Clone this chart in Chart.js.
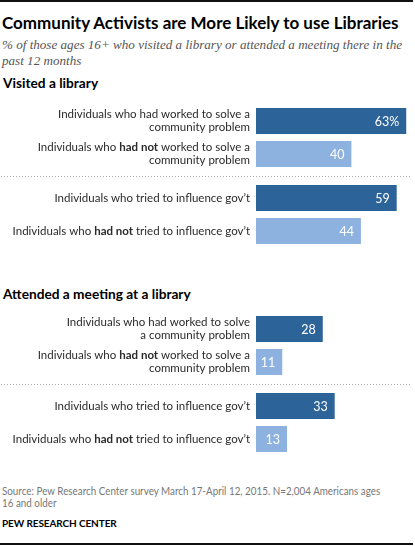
<!DOCTYPE html>
<html>
<head>
<meta charset="utf-8">
<script src="https://cdn.jsdelivr.net/npm/chart.js@4"></script>
<style>
  body { margin: 0; width: 415px; height: 546px; background: #fff; position: relative; overflow: hidden; font-family: Lato, "Liberation Sans", Arial, sans-serif; }
  .abs { position: absolute; white-space: nowrap; }
  #topline { left: 0; top: 0; width: 413px; height: 2px; background: #111; }
  #botline { left: 0; top: 543px; width: 413px; height: 1.5px; background: #111; }
  #titulo { left: 2px; top: 12px; font-size: 17px; font-weight: bold; color: #000; }
  #sub { left: 2px; top: 37px; font-family: "Liberation Serif", serif; font-style: italic; font-size: 13.1px; line-height: 16px; color: #555; }
  .secao { left: 3px; font-size: 13.7px; font-weight: bold; color: #000; }
  #fonte { left: 2px; top: 485px; font-size: 11.3px; line-height: 12px; color: #777; transform: scaleX(0.87); transform-origin: 0 0; }
  #pew { left: 2px; top: 517px; font-size: 10px; font-weight: bold; color: #000; letter-spacing: -0.1px; }
  canvas { position: absolute; left: 0; }
</style>
</head>
<body>
<div class="abs" id="topline"></div>
<div class="abs" id="titulo">Community Activists are More Likely to use Libraries</div>
<div class="abs" id="sub">% of those ages 16+ who visited a library or attended a meeting there in the<br>past 12 months</div>
<div class="abs secao" style="top:74px">Visited a library</div>
<canvas id="g1" width="415" height="154" style="top:99px"></canvas>
<div class="abs secao" style="top:285px">Attended a meeting at a library</div>
<canvas id="g2" width="415" height="154" style="top:307px"></canvas>
<div class="abs" id="fonte">Source: Pew Research Center survey March 17-April 12, 2015. N=2,004 Americans ages<br>16 and older</div>
<div class="abs" id="pew">PEW RESEARCH CENTER</div>
<div class="abs" id="botline"></div>

<script>
// categorias (pares) e rótulos de cada barra; **texto** = negrito
const categorias = ["Resolver problema", "Influenciar governo"];

const rotulosVisitouSim = [
  ["Individuals who had worked to solve a", "community problem"],
  ["Individuals who tried to influence gov\u2019t"]
];
const rotulosVisitouNao = [
  ["Individuals who **had not** worked to solve a", "community problem"],
  ["Individuals who **had not** tried to influence gov\u2019t"]
];
const rotulosReuniaoSim = [
  ["Individuals who had worked to solve", "a community problem"],
  ["Individuals who tried to influence gov\u2019t"]
];
const rotulosReuniaoNao = rotulosVisitouNao;

const visitouSim = [63, 59];
const visitouNao = [40, 44];
const reuniaoSim = [28, 33];
const reuniaoNao = [11, 13];

const corEscura = "#2c6399";
const corClara = "#8eb2e0";
const fonte = "11.5px Lato, 'Liberation Sans', Arial, sans-serif";

// desenha uma linha com partes em negrito, alinhada à direita
function textoMisto(ctx, linha, xDir, y) {
  let partes = linha.split("**");
  let larguras = partes.map((p, i) => {
    ctx.font = (i % 2 ? "bold " : "") + fonte;
    return ctx.measureText(p).width;
  });
  let x = xDir - larguras.reduce((a, b) => a + b, 0);
  partes.forEach((p, i) => {
    ctx.font = (i % 2 ? "bold " : "") + fonte;
    ctx.fillText(p, x, y);
    x += larguras[i];
  });
}

const rotulosPlugin = {
  id: "rotulos",
  afterDatasetsDraw(chart) {
    const ctx = chart.ctx;
    const area = chart.chartArea;
    ctx.save();
    ctx.textBaseline = "middle";

    // linha pontilhada entre os pares
    const ys = chart.scales.y;
    const meio = (ys.getPixelForValue(0) + ys.getPixelForValue(1)) / 2;
    ctx.fillStyle = "#aaa";
    for (let x = 1; x < 412; x += 3) ctx.fillRect(x, Math.round(meio), 1, 1);

    chart.data.datasets.forEach((ds, d) => {
      const meta = chart.getDatasetMeta(d);
      meta.data.forEach((barra, i) => {
        // rótulo à esquerda
        ctx.fillStyle = "#2a2a2a";
        ctx.textAlign = "left";
        const linhas = ds.rotulos[i];
        const alt = 13.3;
        linhas.forEach((l, k) => {
          const y = barra.y + (k - (linhas.length - 1) / 2) * alt;
          textoMisto(ctx, l, area.left - 6, y);
        });
        // valor dentro da barra
        ctx.fillStyle = "#fff";
        ctx.textAlign = "right";
        ctx.font = "12.5px Lato, 'Liberation Sans', Arial, sans-serif";
        const txt = (chart.canvas.id === "g1" && d === 0 && i === 0) ? ds.data[i] + "%" : String(ds.data[i]);
        ctx.fillText(txt, barra.x - 7, barra.y + 0.5);
      });
    });
    ctx.restore();
  }
};

function criarGrafico(id, sim, nao, rotSim, rotNao) {
  return new Chart(document.getElementById(id), {
    type: "bar",
    data: {
      labels: categorias,
      datasets: [
        { data: sim, backgroundColor: corEscura, rotulos: rotSim, categoryPercentage: 66 / 77, barPercentage: 26 / 33 },
        { data: nao, backgroundColor: corClara, rotulos: rotNao, categoryPercentage: 66 / 77, barPercentage: 26 / 33 }
      ]
    },
    options: {
      indexAxis: "y",
      responsive: false,
      animation: false,
      layout: { padding: { left: 256, right: 4, top: 0, bottom: 0 } },
      plugins: { legend: { display: false }, tooltip: { enabled: false } },
      scales: {
        x: { display: false, min: 0, max: 65 },
        y: { display: false }
      }
    },
    plugins: [rotulosPlugin]
  });
}

criarGrafico("g1", visitouSim, visitouNao, rotulosVisitouSim, rotulosVisitouNao);
criarGrafico("g2", reuniaoSim, reuniaoNao, rotulosReuniaoSim, rotulosReuniaoNao);
</script>
</body>
</html>
